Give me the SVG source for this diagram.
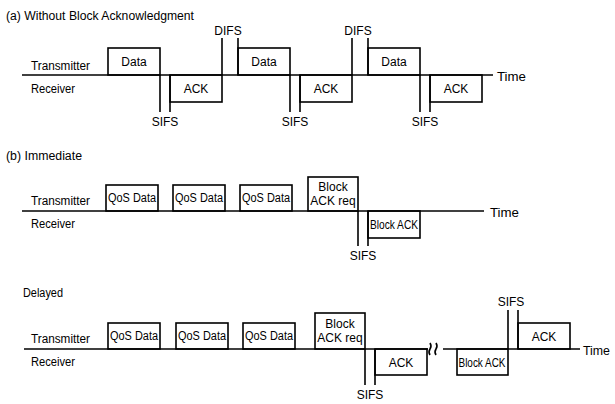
<svg xmlns="http://www.w3.org/2000/svg" width="615" height="404" viewBox="0 0 615 404">
<style>
text{font-family:"Liberation Sans",Arial,sans-serif;font-size:12px;fill:#000}
.c{text-anchor:middle}
path,line,rect{stroke:#000;stroke-width:1.6;fill:none}
</style>
<rect width="615" height="404" style="fill:#fff;stroke:none"/>
<text x="6" y="20" textLength="188" lengthAdjust="spacingAndGlyphs">(a) Without Block Acknowledgment</text>
<text x="6" y="160" textLength="76" lengthAdjust="spacingAndGlyphs">(b) Immediate</text>
<text x="23" y="297" textLength="40" lengthAdjust="spacingAndGlyphs">Delayed</text>
<g id="labels-a">
<text x="31" y="70" textLength="59" lengthAdjust="spacingAndGlyphs">Transmitter</text>
<text x="31" y="93" textLength="44" lengthAdjust="spacingAndGlyphs">Receiver</text>
<text x="497" y="81" textLength="29" lengthAdjust="spacingAndGlyphs">Time</text>
</g>
<g id="connectors">
<line x1="22" y1="75" x2="493" y2="75"/>
<line x1="22" y1="211" x2="484" y2="211"/>
<line x1="24" y1="349" x2="428" y2="349"/>
<line x1="443" y1="349" x2="580" y2="349"/>
<path d="M430,343 q2,3 0,6 q-2,3 0,6 M436,343 q2,3 0,6 q-2,3 0,6"/>
<line x1="160" y1="75" x2="160" y2="112"/><line x1="170" y1="75" x2="170" y2="112"/>
<line x1="222" y1="75" x2="222" y2="38"/><line x1="238" y1="75" x2="238" y2="38"/>
<line x1="290" y1="75" x2="290" y2="112"/><line x1="300" y1="75" x2="300" y2="112"/>
<line x1="352" y1="75" x2="352" y2="38"/><line x1="368" y1="75" x2="368" y2="38"/>
<line x1="420" y1="75" x2="420" y2="112"/><line x1="430" y1="75" x2="430" y2="112"/>
<line x1="358" y1="211" x2="358" y2="246"/><line x1="368" y1="211" x2="368" y2="246"/>
<line x1="365" y1="349" x2="365" y2="385"/><line x1="375" y1="349" x2="375" y2="385"/>
<line x1="508" y1="349" x2="508" y2="310"/><line x1="518" y1="349" x2="518" y2="310"/>
</g>
<g id="frames-a">
<rect x="108" y="48" width="52" height="27"/><text class="c" x="134" y="66">Data</text>
<rect x="170" y="75" width="52" height="27"/><text class="c" x="196" y="93">ACK</text>
<rect x="238" y="48" width="52" height="27"/><text class="c" x="264" y="66">Data</text>
<rect x="300" y="75" width="52" height="27"/><text class="c" x="326" y="93">ACK</text>
<rect x="368" y="48" width="52" height="27"/><text class="c" x="394" y="66">Data</text>
<rect x="430" y="75" width="52" height="27"/><text class="c" x="456" y="93">ACK</text>
<text class="c" x="165" y="126">SIFS</text><text class="c" x="295" y="126">SIFS</text><text class="c" x="425" y="126">SIFS</text>
<text class="c" x="228" y="35">DIFS</text><text class="c" x="358" y="35">DIFS</text>
</g>
<g id="frames-b">
<text x="31" y="205" textLength="59" lengthAdjust="spacingAndGlyphs">Transmitter</text>
<text x="31" y="228" textLength="44" lengthAdjust="spacingAndGlyphs">Receiver</text>
<text x="490" y="217" textLength="29" lengthAdjust="spacingAndGlyphs">Time</text>
<rect x="106" y="185" width="52" height="26"/><text class="c" x="132" y="202" textLength="48" lengthAdjust="spacingAndGlyphs">QoS Data</text>
<rect x="173" y="185" width="52" height="26"/><text class="c" x="199" y="202" textLength="48" lengthAdjust="spacingAndGlyphs">QoS Data</text>
<rect x="240" y="185" width="52" height="26"/><text class="c" x="266" y="202" textLength="48" lengthAdjust="spacingAndGlyphs">QoS Data</text>
<rect x="308" y="177" width="50" height="34"/><text class="c" x="333" y="191">Block</text><text class="c" x="333" y="205">ACK req</text>
<rect x="368" y="211" width="52" height="27"/><text class="c" x="394" y="229" textLength="48" lengthAdjust="spacingAndGlyphs">Block ACK</text>
<text class="c" x="363" y="260">SIFS</text>
</g>
<g id="frames-c">
<text x="31" y="343" textLength="59" lengthAdjust="spacingAndGlyphs">Transmitter</text>
<text x="31" y="366" textLength="44" lengthAdjust="spacingAndGlyphs">Receiver</text>
<text x="583" y="355" textLength="27" lengthAdjust="spacingAndGlyphs">Time</text>
<rect x="108" y="323" width="52" height="26"/><text class="c" x="134" y="340" textLength="48" lengthAdjust="spacingAndGlyphs">QoS Data</text>
<rect x="176" y="323" width="52" height="26"/><text class="c" x="202" y="340" textLength="48" lengthAdjust="spacingAndGlyphs">QoS Data</text>
<rect x="243" y="323" width="52" height="26"/><text class="c" x="269" y="340" textLength="48" lengthAdjust="spacingAndGlyphs">QoS Data</text>
<rect x="315" y="313" width="50" height="36"/><text class="c" x="340" y="328">Block</text><text class="c" x="340" y="342">ACK req</text>
<rect x="375" y="349" width="52" height="26"/><text class="c" x="401" y="367">ACK</text>
<rect x="457" y="349" width="51" height="26"/><text class="c" x="482" y="367" textLength="47" lengthAdjust="spacingAndGlyphs">Block ACK</text>
<rect x="518" y="323" width="52" height="26"/><text class="c" x="544" y="341">ACK</text>
<text class="c" x="370" y="399">SIFS</text><text class="c" x="511" y="306">SIFS</text>
</g>
</svg>
